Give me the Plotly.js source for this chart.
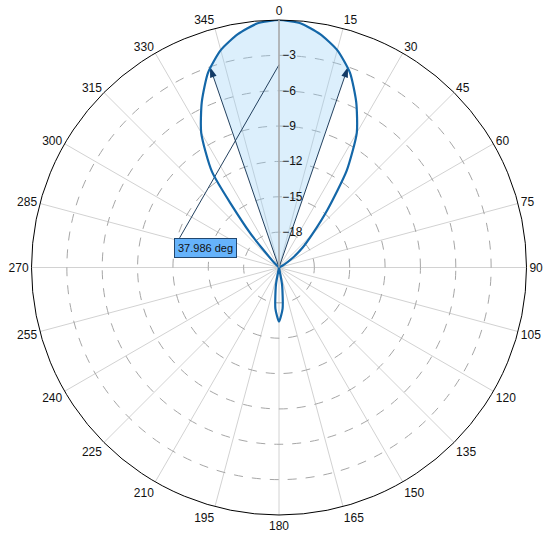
<!DOCTYPE html>
<html>
<head>
<meta charset="utf-8">
<script src="https://cdn.plot.ly/plotly-3.0.1.min.js"></script>
<style>
  html, body { margin: 0; padding: 0; background: #fff; }
  #chart { width: 549px; height: 540px; }
</style>
</head>
<body>
<div id="chart"></div>
<script>
// pattern samples, clockwise from 0 deg (top), dB
const patternTheta = [
  0, 5, 10, 15, 20, 25, 30, 35, 40, 45, 50, 55, 60, 65, 70, 75, 80, 85, 90,
  95, 100, 105, 110, 115, 120, 125, 130, 135, 140, 145, 150, 155, 160, 165,
  170, 175, 180, 185, 190, 195, 200, 205, 210, 215, 220, 225, 230, 235, 240,
  245, 250, 255, 260, 265, 270, 275, 280, 285, 290, 295, 300, 305, 310, 315,
  320, 325, 330, 335, 340, 345, 350, 355, 360,
];
const patternDb = [
  0, -0.2, -0.9, -1.9, -3.4, -5.5, -7.8, -11.0, -14.6, -17.0, -18.4, -19.6,
  -20.5, -21, -21, -21, -21, -21, -21, -21, -21, -21, -21, -21, -21, -21, -21,
  -21, -21, -21, -21, -21, -21, -21, -19.5, -17.5, -16.4, -17.5, -19.5, -21,
  -21, -21, -21, -21, -21, -21, -21, -21, -21, -21, -21, -21, -21, -21, -21,
  -21, -21, -21, -21, -21, -21, -21, -21, -20.4, -17.2, -11.1, -7.8, -5.5,
  -3.4, -1.9, -0.9, -0.2, 0,
];

const radialTicks = [-18, -15, -12, -9, -6, -3];
const angleTicks = [
  0, 15, 30, 45, 60, 75, 90, 105, 120, 135, 150, 165, 180, 195, 210, 225, 240,
  255, 270, 285, 300, 315, 330, 345,
];

// half power beamwidth
const beamEdges = [341.007, 18.993];
const beamLevel = -3.0;
const beamLabel = "37.986 deg";
const leaderR = [-3.8, -12.2];
const leaderTheta = [0, 286.6];

const rMin = -21;

function beamWedge() {
  const r = [rMin, beamLevel];
  const theta = [0, beamEdges[0]];
  patternTheta.forEach((t, i) => {
    if (t > beamEdges[0] && t < 360) {
      r.push(patternDb[i]);
      theta.push(t);
    }
  });
  patternTheta.forEach((t, i) => {
    if (t < beamEdges[1]) {
      r.push(patternDb[i]);
      theta.push(t);
    }
  });
  r.push(beamLevel, rMin);
  theta.push(beamEdges[1], 0);
  return { r, theta };
}

function arrowTrace(edge) {
  return {
    type: "scatterpolar",
    r: [rMin, beamLevel],
    theta: [edge, edge],
    mode: "lines+markers",
    line: { color: "#23405e", width: 1 },
    marker: {
      symbol: ["circle", "arrow"],
      size: [0, 11],
      angleref: "previous",
      color: "#123a66",
      opacity: 1,
      line: { width: 0 },
    },
    hoverinfo: "skip",
  };
}

const wedge = beamWedge();
const data = [
  {
    type: "scatterpolar",
    r: wedge.r,
    theta: wedge.theta,
    mode: "none",
    fill: "toself",
    fillcolor: "rgba(150, 205, 245, 0.33)",
    hoverinfo: "skip",
  },
  arrowTrace(beamEdges[0]),
  arrowTrace(beamEdges[1]),
  {
    type: "scatterpolar",
    r: leaderR,
    theta: leaderTheta,
    mode: "lines",
    line: { color: "#23405e", width: 1 },
    hoverinfo: "skip",
  },
  {
    type: "scatterpolar",
    r: patternDb,
    theta: patternTheta,
    mode: "lines",
    line: { color: "#1467a8", width: 2.2, shape: "spline", smoothing: 0.6 },
  },
];

const layout = {
  width: 549,
  height: 540,
  showlegend: false,
  paper_bgcolor: "white",
  margin: { l: 30, r: 21, t: 20, b: 25 },
  font: { family: "Liberation Sans, Arial, sans-serif", size: 12, color: "#111" },
  polar: {
    bgcolor: "white",
    domain: { x: [0, 1], y: [0, 1] },
    angularaxis: {
      rotation: 90,
      direction: "clockwise",
      tickmode: "array",
      tickvals: angleTicks,
      ticks: "",
      showline: true,
      linecolor: "#000",
      linewidth: 1,
      gridcolor: "#d2d2d2",
      gridwidth: 1,
      tickfont: { size: 12, color: "#111" },
    },
    radialaxis: {
      range: [rMin, 0],
      tickmode: "array",
      tickvals: radialTicks,
      angle: 90,
      side: "clockwise",
      tickangle: 90,
      ticks: "",
      showline: true,
      linecolor: "#a9a9a9",
      linewidth: 1.5,
      gridcolor: "#a6a6a6",
      griddash: "dash",
      tickfont: { size: 12, color: "#111" },
    },
  },
  annotations: [
    {
      xref: "paper",
      yref: "paper",
      x: 0.289,
      y: 0.539,
      text: beamLabel,
      showarrow: false,
      font: { size: 11, color: "#111" },
      bgcolor: "#66b3fb",
      bordercolor: "#22476e",
      borderwidth: 1,
      borderpad: 3,
    },
  ],
};

Plotly.newPlot("chart", data, layout, { staticPlot: true, displayModeBar: false });
</script>
</body>
</html>
